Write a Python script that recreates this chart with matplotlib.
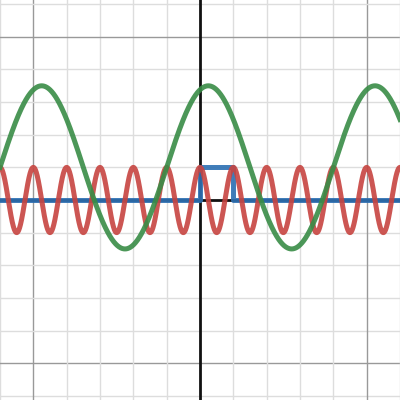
import numpy as np
import matplotlib
matplotlib.use("Agg")
import matplotlib.pyplot as plt

x_range = [-6, 6]
y_range = [-6.13, 6.13]
green_center, green_amp, green_period, green_shift = 1.0, 2.5, 5.0, 1.0
red_amp, red_period = 1.0, 1.0
pulse_start, pulse_end, pulse_height = 0.0, 1.0, 1.0

fig = plt.figure(figsize=(4, 4), dpi=100)
ax = fig.add_axes([0, 0, 1, 1])
ax.set_xlim(x_range)
ax.set_ylim(y_range)
for v in np.arange(-6, 7, 1):
    major = v % 5 == 0
    c = "#999999" if major else "#dddddd"
    if v != 0:
        ax.axvline(v, color=c, lw=1.0, zorder=0)
        ax.axhline(v, color=c, lw=1.0, zorder=0)
ax.axvline(0, color="#111111", lw=2, zorder=1)
ax.axhline(0, color="#111111", lw=2, zorder=1)

x = np.linspace(x_range[0], x_range[1], 3000)
xb = [x_range[0], pulse_start, pulse_start, pulse_end, pulse_end, x_range[1]]
yb = [0, 0, pulse_height, pulse_height, 0, 0]
ax.plot(xb, yb, color="#2d70b3", lw=3.6, alpha=0.9, zorder=2)
ax.plot(x, red_amp*np.cos(2*np.pi*x/red_period), color="#c74440", lw=3.6, alpha=0.9, zorder=3)
ax.plot(x, green_center + green_amp*np.sin(2*np.pi*(x+green_shift)/green_period),
        color="#388c46", lw=3.6, alpha=0.9, zorder=4)
ax.axis("off")
fig.savefig("out.png", dpi=100)
